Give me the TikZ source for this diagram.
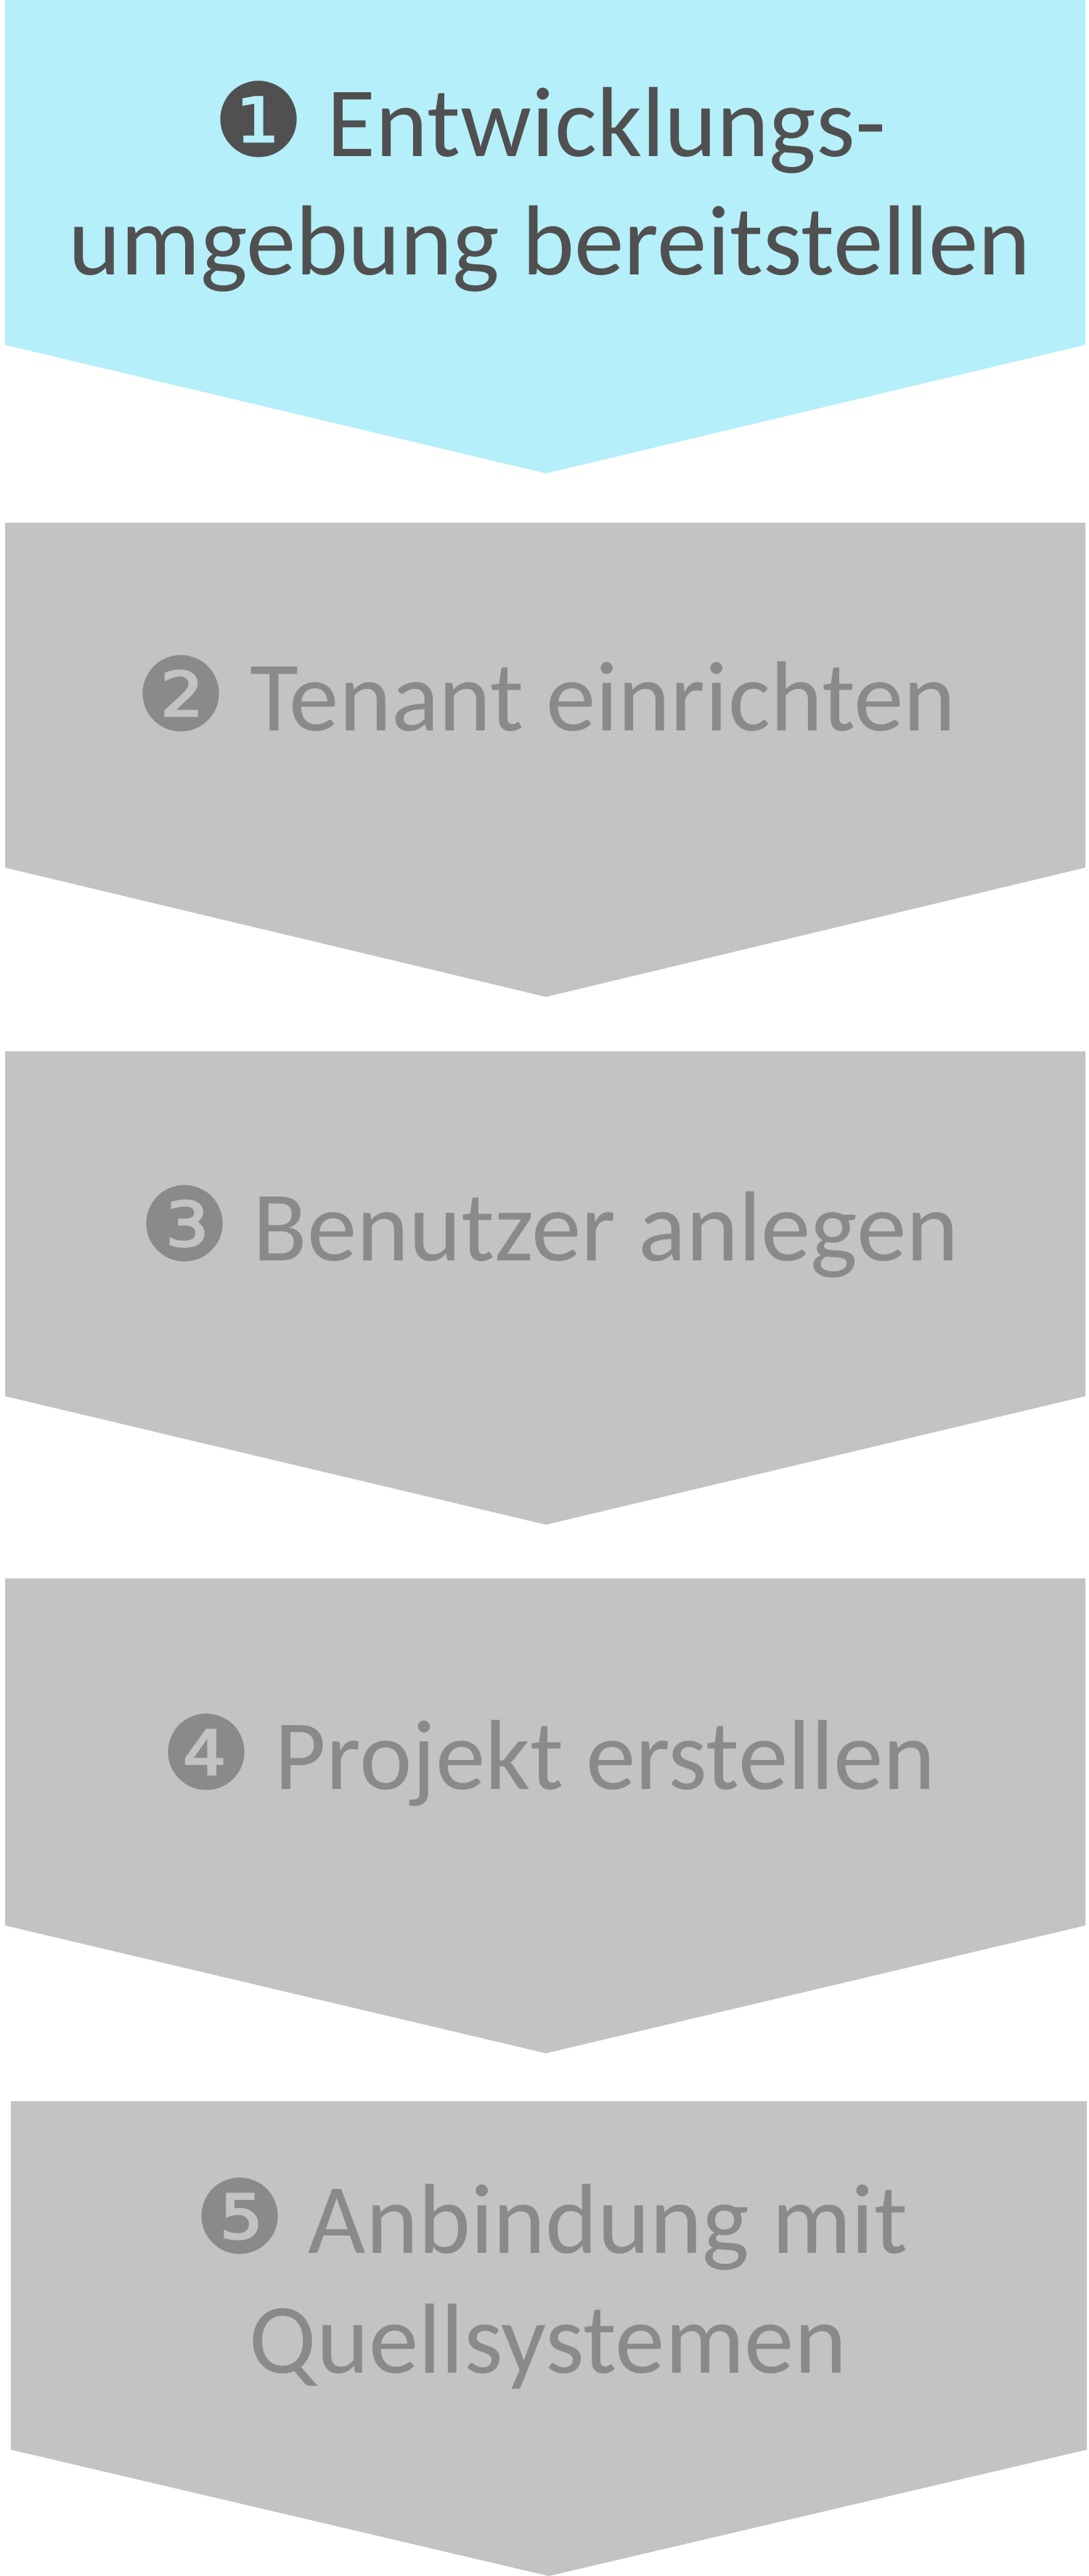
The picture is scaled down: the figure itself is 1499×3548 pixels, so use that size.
\documentclass[tikz,border=0pt]{standalone}
\usepackage{fontspec}
\setmainfont{Carlito}
\newfontfamily\dingfont{DejaVu Sans}

\definecolor{stepcyan}{HTML}{B5EFFA}
\definecolor{stepgray}{HTML}{C3C3C3}
\definecolor{darktext}{HTML}{505050}
\definecolor{greytext}{HTML}{8A8A8A}

\newcommand{\stepnum}[1]{{\dingfont\fontsize{40}{40}\selectfont #1}}

\begin{document}
\begin{tikzpicture}[x=0.01cm, y=-0.01cm,
  steptext/.style={font=\fontsize{39}{46.4}\selectfont, inner sep=0pt, anchor=base}]

\useasboundingbox (0,0) rectangle (1499,3548);

\draw[draw=none, fill=stepcyan] (7,0)--(1495,0)--(1495,475)--(752,652)--(7,475)--cycle;
\draw[draw=none, fill=stepgray] (7,720)--(1495,720)--(1495,1195)--(752,1373)--(7,1195)--cycle;
\draw[draw=none, fill=stepgray] (7,1448)--(1495,1448)--(1495,1923)--(752,2100)--(7,1923)--cycle;
\draw[draw=none, fill=stepgray] (7,2174)--(1495,2174)--(1495,2652)--(752,2828)--(7,2652)--cycle;
\draw[draw=none, fill=stepgray] (15,2894)--(1497,2894)--(1497,3374)--(756,3548)--(15,3374)--cycle;

\node[steptext, text=darktext] (s1a) at (757,215) {\stepnum{❶} Entwicklungs-};
\node[steptext, text=darktext] (s1b) at (757,378) {umgebung bereitstellen};
\node[steptext, text=greytext] (s2) at (752,1006) {\stepnum{❷} Tenant einrichten};
\node[steptext, text=greytext] (s3) at (756,1736) {\stepnum{❸} Benutzer anlegen};
\node[steptext, text=greytext] (s4) at (755,2464) {\stepnum{❹} Projekt erstellen};
\node[steptext, text=greytext] (s5a) at (759,3103) {\stepnum{❺} Anbindung mit};
\node[steptext, text=greytext] (s5b) at (755,3268) {Quellsystemen};

\end{tikzpicture}
\end{document}
